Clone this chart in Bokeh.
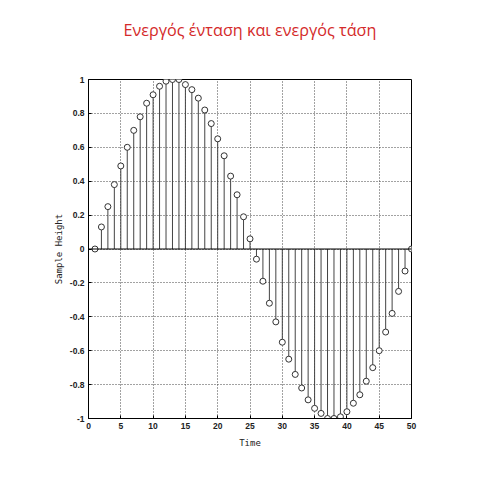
from bokeh.plotting import figure
from bokeh.models import Range1d, FixedTicker, Span, ColumnDataSource, LinearAxis
from bokeh.embed import file_html
from bokeh.resources import INLINE

title_text = "Ενεργός ένταση και ενεργός τάση"
x_label = "Time"
y_label = "Sample Height"

time = list(range(1, 51))
height = [0.00, 0.13, 0.25, 0.38, 0.49, 0.60, 0.70, 0.78, 0.86, 0.91,
          0.96, 0.99, 1.00, 1.00, 0.97, 0.94, 0.89, 0.82, 0.74, 0.65,
          0.55, 0.43, 0.32, 0.19, 0.06, -0.06, -0.19, -0.32, -0.43, -0.55,
          -0.65, -0.74, -0.82, -0.89, -0.94, -0.97, -1.00, -1.00, -0.99, -0.96,
          -0.91, -0.86, -0.78, -0.70, -0.60, -0.49, -0.38, -0.25, -0.13, 0.00]

x_ticks = [0, 5, 10, 15, 20, 25, 30, 35, 40, 45, 50]
y_ticks = [-1, -0.8, -0.6, -0.4, -0.2, 0, 0.2, 0.4, 0.6, 0.8, 1]
y_tick_labels = {-1: "-1", -0.8: "-0.8", -0.6: "-0.6", -0.4: "-0.4", -0.2: "-0.2",
                 0: "0", 0.2: "0.2", 0.4: "0.4", 0.6: "0.6", 0.8: "0.8", 1: "1"}

src = ColumnDataSource(dict(t=time, v=height, z=[0] * len(time)))

p = figure(width=464, height=464, output_backend="svg", toolbar_location=None,
           x_range=Range1d(0, 50), y_range=Range1d(-1, 1),
           min_border_left=88, min_border_right=53, min_border_top=79, min_border_bottom=46)
p.background_fill_color = "white"
p.border_fill_color = "white"
p.outline_line_color = "black"
p.outline_line_width = 1

xaxis = p.below[0]
yaxis = p.left[0]

# title drawn as the label of a bare axis above the plot
title_axis = LinearAxis(ticker=FixedTicker(ticks=[]), axis_line_color=None,
                        major_tick_in=0, major_tick_out=0, minor_tick_in=0, minor_tick_out=0,
                        major_label_standoff=0,
                        axis_label=title_text, axis_label_standoff=39,
                        axis_label_text_color="#D42A2A", axis_label_text_font="Open Sans",
                        axis_label_text_font_size="16.2px", axis_label_text_font_style="normal")
p.add_layout(title_axis, "above")

xaxis.ticker = FixedTicker(ticks=x_ticks)
yaxis.ticker = FixedTicker(ticks=y_ticks)
yaxis.major_label_overrides = y_tick_labels
for ax in (xaxis, yaxis):
    ax.axis_line_color = "black"
    ax.major_tick_in = 3
    ax.major_tick_out = 0
    ax.minor_tick_line_color = None
    ax.major_tick_line_color = "black"
    ax.major_label_text_font = "Liberation Sans"
    ax.major_label_text_font_style = "bold"
    ax.major_label_text_font_size = "8.5px"
    ax.major_label_text_color = "#222222"
    ax.axis_label_text_font = "DejaVu Sans Mono"
    ax.axis_label_text_font_style = "normal"
    ax.axis_label_text_font_size = "9px"
    ax.axis_label_text_color = "#222222"
xaxis.axis_label = x_label
yaxis.axis_label = y_label
xaxis.major_label_standoff = 4
yaxis.major_label_standoff = 4
xaxis.axis_label_standoff = 6
yaxis.axis_label_standoff = 3

for g in (p.xgrid, p.ygrid):
    g.grid_line_color = "#444444"
    g.grid_line_dash = "1 2"
    g.grid_line_width = 1

p.add_layout(Span(location=0, dimension="width", line_color="black", line_width=1))
p.segment(x0="t", y0="z", x1="t", y1="v", source=src, line_color="#444444", line_width=1)
p.scatter(x="t", y="v", source=src, marker="circle", size=6,
          fill_color="white", line_color="#333333", line_width=1)

open("out.html", "w").write(file_html(p, INLINE))
